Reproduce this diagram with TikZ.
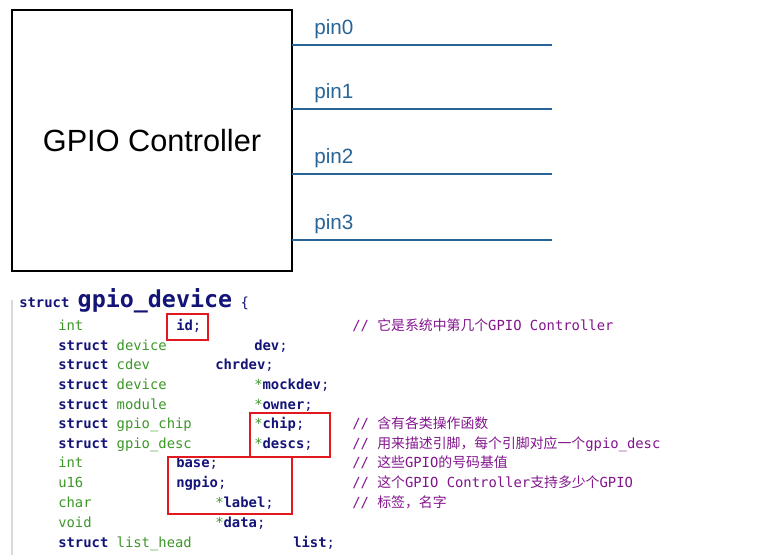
\documentclass[tikz,border=0pt]{standalone}
\usepackage{fontspec}
\setmainfont{Liberation Sans}
\newfontfamily\cmono{DejaVu Sans Mono}
\newfontfamily\cjk{Noto Sans CJK SC}
\usetikzlibrary{positioning}
\definecolor{kwblue}{RGB}{20,20,120}
\definecolor{tygreen}{RGB}{60,150,40}
\definecolor{cmpurple}{RGB}{130,20,140}
\definecolor{pinblue}{RGB}{40,100,150}
\definecolor{boxred}{RGB}{225,25,30}
\newcommand{\kw}[1]{{\bfseries\color{kwblue}#1}}
\newcommand{\ty}[1]{{\color{tygreen}#1}}
\newcommand{\fd}[1]{{\bfseries\color{kwblue}#1}{\color{kwblue};}}
\newcommand{\st}{{\color{tygreen}*}}
\newcommand{\cm}[1]{{\color{cmpurple}// #1}}

\begin{document}
\begin{tikzpicture}[x=0.75pt,y=-0.75pt,
	code/.style={anchor=base west, inner sep=0pt, font=\cmono\fontsize{10.4}{12}\selectfont},
	pinline/.style={pinblue, line width=1.6pt},
	pinlabel/.style={anchor=base west, inner sep=0pt, text=pinblue, font=\fontsize{15.5}{18}\selectfont},
	hilite/.style={boxred, line width=1.3pt}]
	\useasboundingbox (0,0) rectangle (764,559);

	% controller block
	\node[draw, line width=1.3pt, minimum width=210pt, minimum height=195.75pt, inner sep=0pt,
		font=\fontsize{23}{26}\selectfont] (ctrl) at (152,140.5) {GPIO Controller};
	\foreach \i/\y in {0/45,1/109,2/174,3/240} {
		\coordinate (p\i) at (292,\y);
		\coordinate (q\i) at (552,\y);
		\draw[pinline] (p\i) -- (q\i);
		\node[pinlabel] (lab\i) at (314,\y-10) {pin\i};
	}

	% struct gpio_device
	\draw[gray!30, line width=1pt] (12,300) -- (12,555);
	\node[code] (title) at (19,308) {\kw{struct} {\fontsize{17.5}{20}\selectfont\kw{gpio\_device}} {\color{kwblue}\{}};

	\node[code] (r1a) at (58,331) {\ty{int}};
	\node[code] (r1b) at (176,331) {\fd{id}};
	\node[code] (r2a) at (58,351) {\kw{struct} \ty{device}};
	\node[code] (r2b) at (254,351) {\fd{dev}};
	\node[code] (r3a) at (58,370) {\kw{struct} \ty{cdev}};
	\node[code] (r3b) at (215,370) {\fd{chrdev}};
	\node[code] (r4a) at (58,390) {\kw{struct} \ty{device}};
	\node[code] (r4b) at (254,390) {\st\fd{mockdev}};
	\node[code] (r5a) at (58,410) {\kw{struct} \ty{module}};
	\node[code] (r5b) at (254,410) {\st\fd{owner}};
	\node[code] (r6a) at (58,429) {\kw{struct} \ty{gpio\_chip}};
	\node[code] (r6b) at (254,429) {\st\fd{chip}};
	\node[code] (r7a) at (58,449) {\kw{struct} \ty{gpio\_desc}};
	\node[code] (r7b) at (254,449) {\st\fd{descs}};
	\node[code] (r8a) at (58,468) {\ty{int}};
	\node[code] (r8b) at (176,468) {\fd{base}};
	\node[code] (r9a) at (58,488) {\ty{u16}};
	\node[code] (r9b) at (176,488) {\fd{ngpio}};
	\node[code] (r10a) at (58,507) {\ty{char}};
	\node[code] (r10b) at (215,507) {\st\fd{label}};
	\node[code] (r11a) at (58,527) {\ty{void}};
	\node[code] (r11b) at (215,527) {\st\fd{data}};
	\node[code] (r12a) at (58,547) {\kw{struct} \ty{list\_head}};
	\node[code] (r12b) at (293,547) {\fd{list}};

	% comments
	\node[code] (c1) at (352,331) {\cm{{\cjk 它是系统中第几个}GPIO Controller}};
	\node[code] (c6) at (352,429) {\cm{{\cjk 含有各类操作函数}}};
	\node[code] (c7) at (352,449) {\cm{{\cjk 用来描述引脚，每个引脚对应一个}gpio\_desc}};
	\node[code] (c8) at (352,468) {\cm{{\cjk 这些}GPIO{\cjk 的号码基值}}};
	\node[code] (c9) at (352,488) {\cm{{\cjk 这个}GPIO Controller{\cjk 支持多少个}GPIO}};
	\node[code] (c10) at (352,507) {\cm{{\cjk 标签，名字}}};

	% highlights
	\draw[hilite] (167,314) rectangle (208,340);
	\draw[hilite] (250,413) rectangle (330,457);
	\draw[hilite] (168,457) rectangle (292,514);
\end{tikzpicture}
\end{document}
